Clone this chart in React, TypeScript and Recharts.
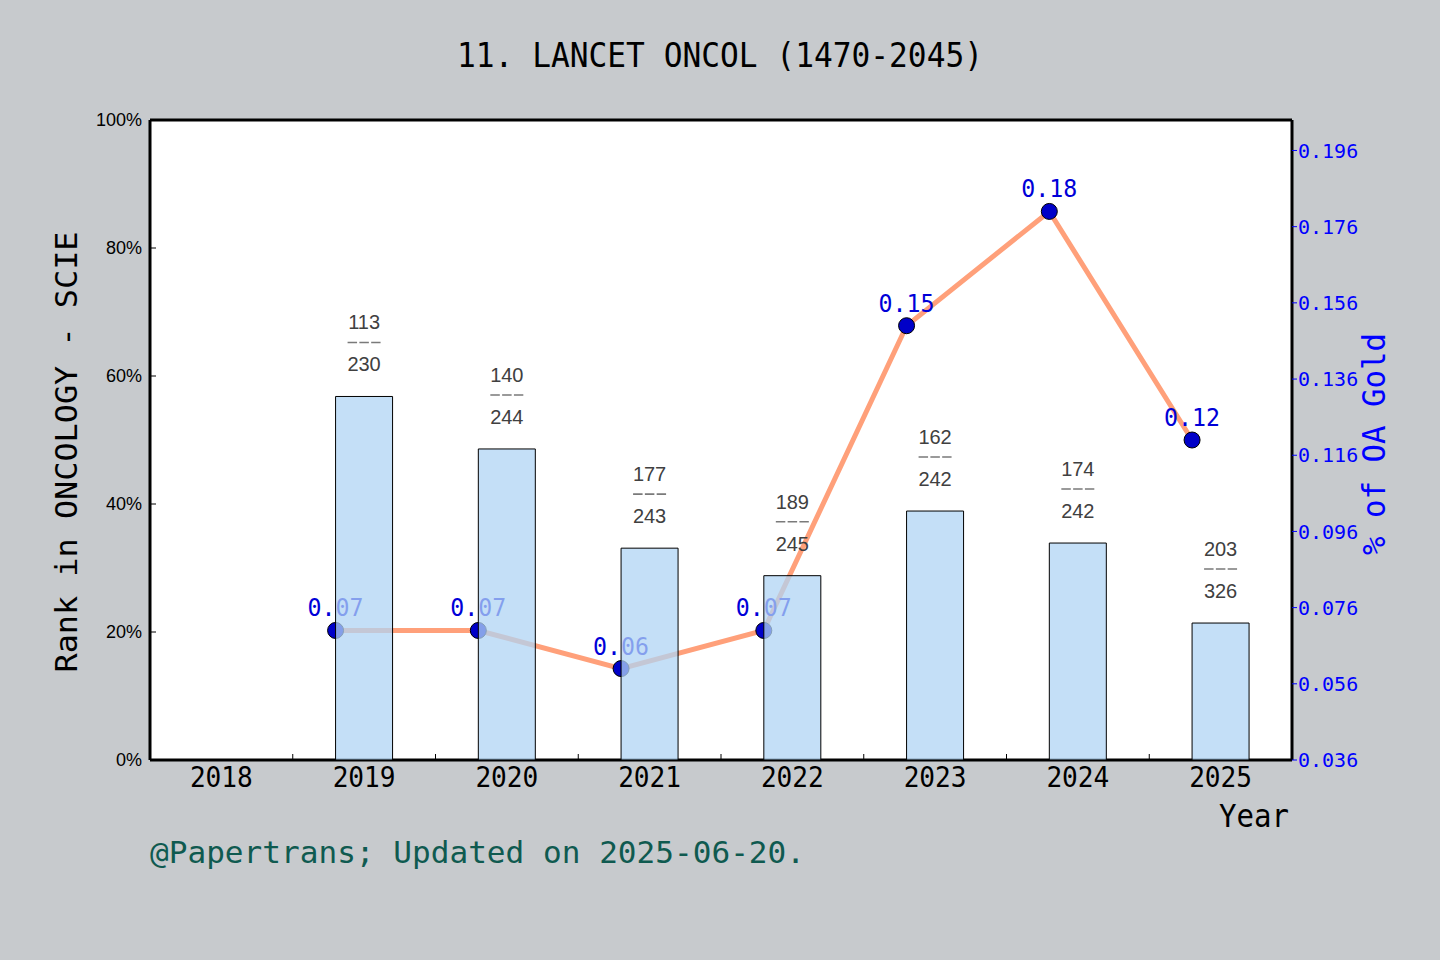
import React from 'react';
import {
  ComposedChart,
  Bar,
  Line,
  XAxis,
  YAxis,
  CartesianGrid,
  ReferenceLine,
  LabelList,
} from 'recharts';

// ---------- data ----------
const YEARS = ['2018', '2019', '2020', '2021', '2022', '2023', '2024', '2025'];
const YEAR_NUMS = [2018, 2019, 2020, 2021, 2022, 2023, 2024, 2025];
const RANK_SHARE = [null, 0.568, 0.486, 0.331, 0.288, 0.389, 0.339, 0.214];
const RANKS = [null, 113, 140, 177, 189, 162, 174, 203];
const TOTALS = [null, 230, 244, 243, 245, 242, 242, 326];
const OA_GOLD = [null, 0.07, 0.07, 0.06, 0.07, 0.15, 0.18, 0.12];
const LEFT_TICKS = [0, 0.2, 0.4, 0.6, 0.8, 1];
const RIGHT_TICKS = [0.036, 0.056, 0.076, 0.096, 0.116, 0.136, 0.156, 0.176, 0.196];
const RIGHT_DOMAIN = [0.036, 0.204];

const TITLE = '11. LANCET ONCOL (1470-2045)';
const FOOTER = '@Papertrans; Updated on 2025-06-20.';
const LEFT_LABEL = 'Rank in ONCOLOGY - SCIE';
const RIGHT_LABEL = '% of OA Gold';
const X_LABEL = 'Year';

// ---------- layout ----------
const W = 1440;
const H = 960;
const LEFT_W = 150;
const RIGHT_W = 148;
const TOP = 120;
const X_H = 40;
const BOTTOM = 160;
const PLOT_W = W - LEFT_W - RIGHT_W;
const BAND = PLOT_W / YEARS.length;
const BAR_FRACTION = 0.4;
const LINE_SHIFT = 0.5 - BAR_FRACTION / 2; // line points sit at bar left edges

const MONO = '"DejaVu Sans Mono", monospace';
const SANS = '"Liberation Sans", Arial, sans-serif';
const BG = '#c7cacd';
const BLUE_TICK = '#0000ff';
const BLUE_LABEL = '#0000d8';

const data = YEARS.map((label, i) => ({
  label,
  year: YEAR_NUMS[i],
  share: RANK_SHARE[i],
  frac: RANKS[i] == null ? null : `${RANKS[i]}/${TOTALS[i]}`,
  oa: OA_GOLD[i],
}));

const LeftTick = (p: any) => {
  const { x, y, payload } = p;
  return (
    <g>
      <text x={x} y={y} dy={6} textAnchor="end" fontFamily={SANS} fontSize={18} fill="#000">
        {Math.round(payload.value * 100) + '%'}
      </text>
      <line x1={x + 8} x2={x + 14} y1={y} y2={y} stroke="#000" strokeWidth={1} />
    </g>
  );
};

const XTick = (p: any) => {
  const { x, y, payload, index } = p;
  const half = BAND / 2;
  return (
    <g>
      <text
        x={x}
        y={y + 27}
        textAnchor="middle"
        fontFamily={MONO}
        fontSize={28}
        textLength={63}
        lengthAdjust="spacingAndGlyphs"
        fill="#000"
      >
        {payload.value}
      </text>
      {index < YEARS.length - 1 && (
        <line x1={x + half} x2={x + half} y1={y} y2={y - 6} stroke="#000" strokeWidth={1} />
      )}
    </g>
  );
};

const BarFraction = (p: any) => {
  const { x, y, width, value } = p;
  if (value == null || typeof value !== 'string') return null;
  const [num, den] = value.split('/');
  const cx = Number(x) + Number(width) / 2;
  const top = Number(y);
  return (
    <g>
      <text x={cx} y={top - 67} textAnchor="middle" fontFamily={SANS} fontSize={20} fill="#404040">
        {num}
      </text>
      <line
        x1={cx - 16.5}
        x2={cx + 16.5}
        y1={top - 54}
        y2={top - 54}
        stroke="#7a7a7a"
        strokeWidth={1.6}
        strokeDasharray="9.5 2.3"
      />
      <text x={cx} y={top - 25} textAnchor="middle" fontFamily={SANS} fontSize={20} fill="#404040">
        {den}
      </text>
    </g>
  );
};

const OaLabel = (p: any) => {
  const { x, y, value } = p;
  if (value == null) return null;
  return (
    <text
      x={x}
      y={Number(y) - 14}
      textAnchor="middle"
      fontFamily={MONO}
      fontSize={25}
      textLength={56}
      lengthAdjust="spacingAndGlyphs"
      fill={BLUE_LABEL}
    >
      {Number(value).toFixed(2)}
    </text>
  );
};

export default function App() {
  return (
    <div style={{ width: W, height: H, background: BG, position: 'relative', overflow: 'hidden' }}>
      <style>{'body{margin:0;}'}</style>
      <ComposedChart
        width={W}
        height={H}
        data={data}
        margin={{ top: TOP, right: 0, bottom: BOTTOM, left: 0 }}
        barCategoryGap={`${((1 - BAR_FRACTION) / 2) * 100}%`}
      >
        <CartesianGrid xAxisId="cat" yAxisId="left" horizontal={false} vertical={false} fill="#ffffff" stroke="none" />
        <XAxis
          xAxisId="cat"
          dataKey="label"
          type="category"
          height={X_H}
          axisLine={{ stroke: '#000', strokeWidth: 3 }}
          tickLine={false}
          tickSize={0}
          tickMargin={0}
          tick={<XTick />}
          interval={0}
        />
        <XAxis
          xAxisId="line"
          dataKey="year"
          type="number"
          domain={[YEAR_NUMS[0] - LINE_SHIFT, YEAR_NUMS[YEAR_NUMS.length - 1] + 1 - LINE_SHIFT]}
          allowDataOverflow
          hide
        />
        <YAxis
          yAxisId="left"
          orientation="left"
          width={LEFT_W}
          domain={[0, 1]}
          ticks={LEFT_TICKS}
          interval={0}
          axisLine={{ stroke: '#000', strokeWidth: 3 }}
          tickLine={false}
          tickSize={0}
          tickMargin={8}
          tick={<LeftTick />}
        />
        <YAxis
          yAxisId="right"
          orientation="right"
          width={RIGHT_W}
          domain={RIGHT_DOMAIN}
          ticks={RIGHT_TICKS}
          interval={0}
          allowDataOverflow
          stroke={BLUE_TICK}
          axisLine={{ stroke: '#000', strokeWidth: 3 }}
          tickLine={{ stroke: BLUE_TICK, strokeWidth: 1 }}
          tickSize={5}
          tickMargin={1}
          tick={{ fill: BLUE_TICK, fontSize: 20, fontFamily: MONO }}
          tickFormatter={(v: number) => v.toFixed(3)}
        />
        <ReferenceLine yAxisId="left" xAxisId="cat" y={1} stroke="#000" strokeWidth={3} />
        <Line
          xAxisId="line"
          yAxisId="right"
          dataKey="oa"
          type="linear"
          stroke="#ffa07a"
          strokeWidth={5}
          dot={{ r: 8, fill: '#0000c8', stroke: '#000', strokeWidth: 1 }}
          activeDot={false}
          isAnimationActive={false}
        >
          <LabelList dataKey="oa" content={<OaLabel />} />
        </Line>
        <Bar
          xAxisId="cat"
          yAxisId="left"
          dataKey="share"
          fill="#b0d4f4"
          fillOpacity={0.75}
          stroke="#000"
          strokeWidth={1}
          isAnimationActive={false}
          zIndex={2500}
        >
          <LabelList dataKey="frac" content={<BarFraction />} />
        </Bar>
      </ComposedChart>
      <svg
        width={W}
        height={H}
        style={{ position: 'absolute', left: 0, top: 0, pointerEvents: 'none' }}
      >
        <text
          x={720}
          y={67}
          textAnchor="middle"
          fontFamily={MONO}
          fontSize={34}
          textLength={526}
          lengthAdjust="spacingAndGlyphs"
          fill="#000"
        >
          {TITLE}
        </text>
        <text
          x={77}
          y={452}
          transform="rotate(-90 77 452)"
          textAnchor="middle"
          fontFamily={MONO}
          fontSize={31}
          textLength={441}
          lengthAdjust="spacingAndGlyphs"
          fill="#000"
        >
          {LEFT_LABEL}
        </text>
        <text
          x={1385}
          y={444}
          transform="rotate(-90 1385 444)"
          textAnchor="middle"
          fontFamily={MONO}
          fontSize={32}
          textLength={222}
          lengthAdjust="spacingAndGlyphs"
          fill={BLUE_TICK}
        >
          {RIGHT_LABEL}
        </text>
        <text
          x={1289}
          y={827}
          textAnchor="end"
          fontFamily={MONO}
          fontSize={32}
          textLength={70}
          lengthAdjust="spacingAndGlyphs"
          fill="#000"
        >
          {X_LABEL}
        </text>
        <text
          x={150}
          y={863}
          fontFamily={MONO}
          fontSize={30}
          textLength={655}
          lengthAdjust="spacingAndGlyphs"
          fill="#0f5a50"
        >
          {FOOTER}
        </text>
      </svg>
    </div>
  );
}
